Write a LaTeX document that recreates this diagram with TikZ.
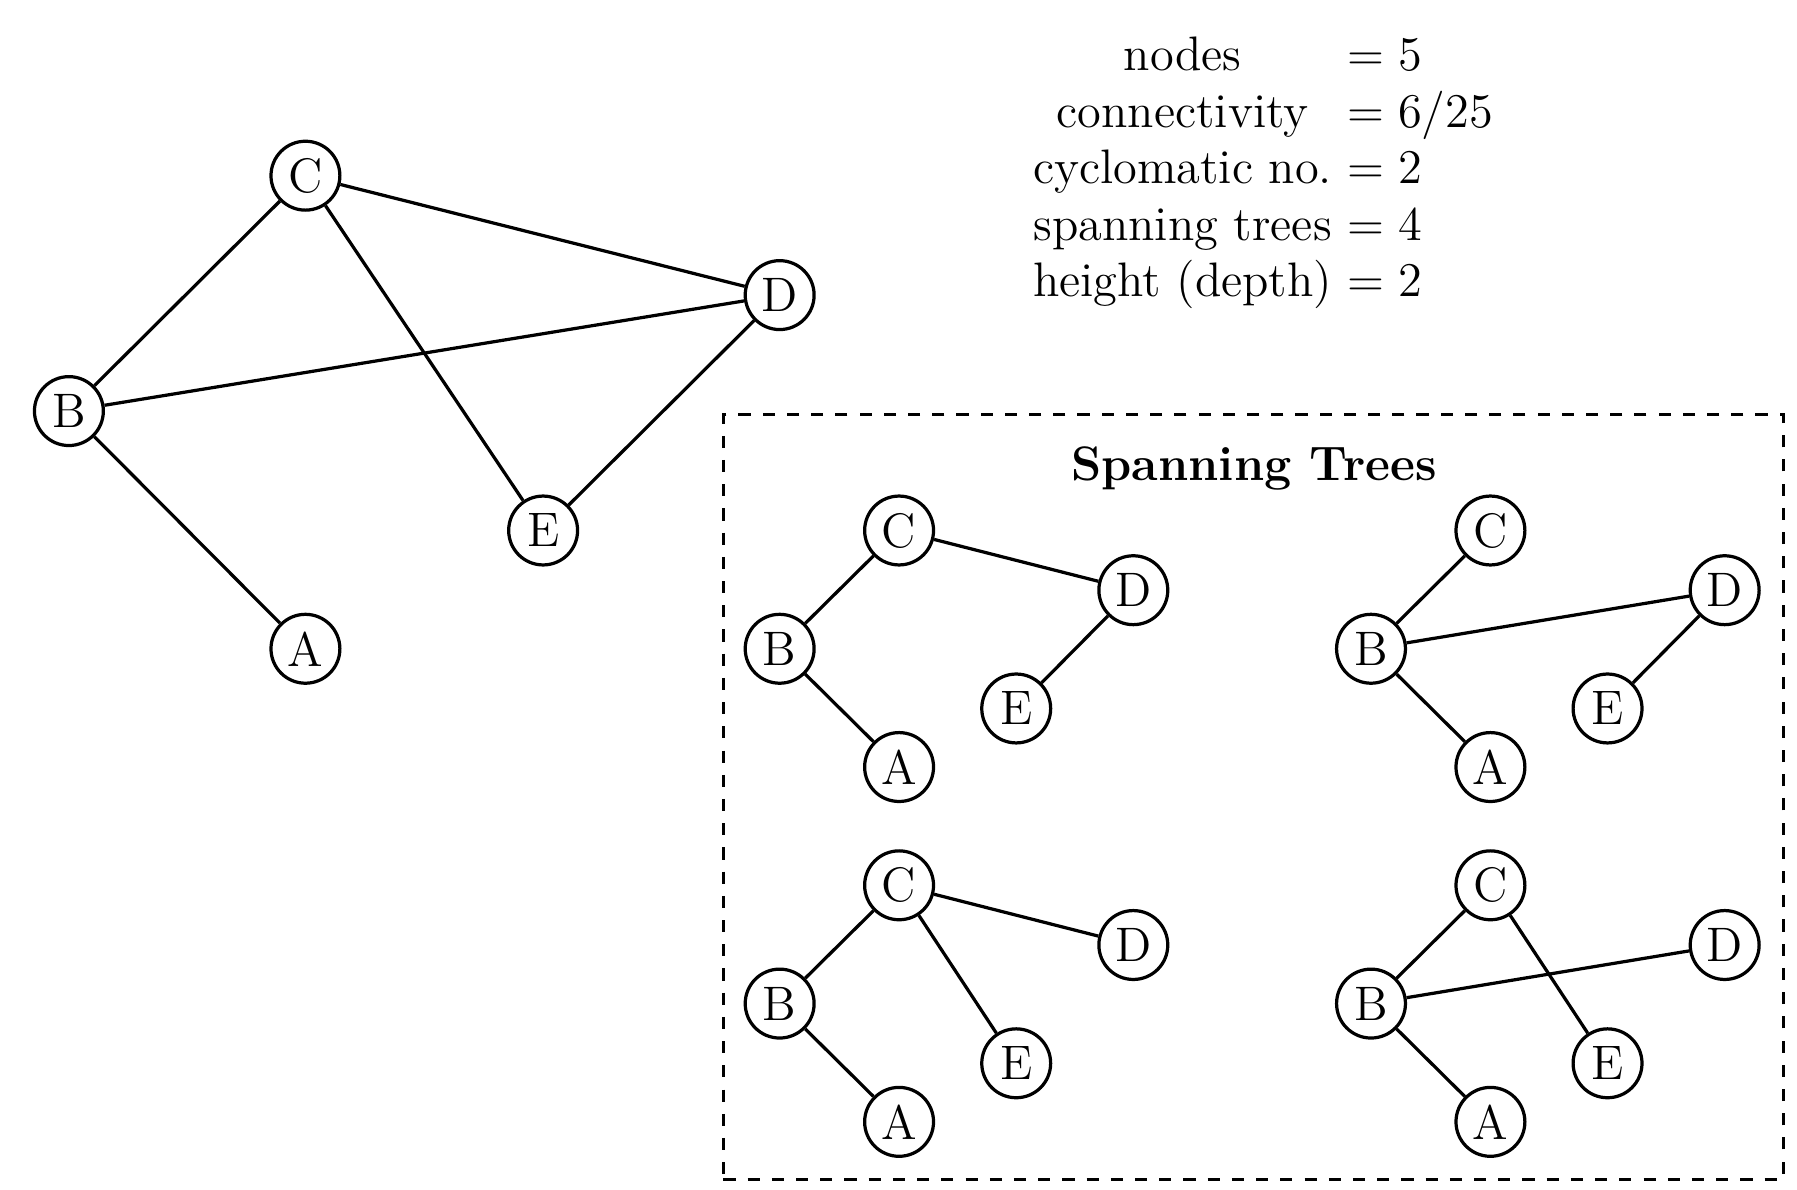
\documentclass[tikz,border=0pt]{standalone}
\usepackage{amsmath}
\usetikzlibrary{positioning}
\begin{document}
\begin{tikzpicture}[thick, font=\large]
	\tikzstyle{vertex}=[circle,draw=black,fill=white,minimum size=0.6cm,inner sep=0pt]
	\tikzstyle{frame}=[draw=black,dashed,thick]
	\useasboundingbox (0,0) rectangle (15.65,-10.36);

	% main graph
	\node[vertex] (C) at (2.66,-1.53) {C};
	\node[vertex] (D) at (6.79,-2.57) {D};
	\node[vertex] (B) at (0.60,-3.58) {B};
	\node[vertex] (E) at (4.73,-4.62) {E};
	\node[vertex] (A) at (2.66,-5.65) {A};
	\draw (B) -- (C);
	\draw (C) -- (D);
	\draw (C) -- (E);
	\draw (B) -- (D);
	\draw (D) -- (E);
	\draw (B) -- (A);

	% statistics
	\node (stats) at (11.0,-1.5) {$\begin{array}{c@{\ }l}
		\text{nodes} & = 5\\
		\text{connectivity} & = 6/25\\
		\text{cyclomatic no.} & = 2\\
		\text{spanning trees} & = 4\\
		\text{height (depth)} & = 2
	\end{array}$};

	% spanning trees
	\node[frame, minimum width=9.23cm, minimum height=6.66cm] (box) at (10.915,-6.94) {};
	\node[font=\large\bfseries] (title) at (10.92,-4.08) {Spanning Trees};
	\foreach \t/\dx/\dy/\edges in {1/0/0/{C/D,D/E}, 2/5.15/0/{B/D,D/E}, 3/0/-3.09/{C/D,C/E}, 4/5.15/-3.09/{B/D,C/E}} {
		\begin{scope}[shift={(\dx,\dy)}]
			\node[vertex] (t\t C) at (7.83,-4.62) {C};
			\node[vertex] (t\t D) at (9.87,-5.14) {D};
			\node[vertex] (t\t B) at (6.79,-5.65) {B};
			\node[vertex] (t\t E) at (8.85,-6.17) {E};
			\node[vertex] (t\t A) at (7.83,-6.68) {A};
			\draw (t\t B) -- (t\t C);
			\draw (t\t B) -- (t\t A);
			\foreach \u/\v in \edges
				\draw (t\t\u) -- (t\t\v);
		\end{scope}
	}
\end{tikzpicture}
\end{document}
